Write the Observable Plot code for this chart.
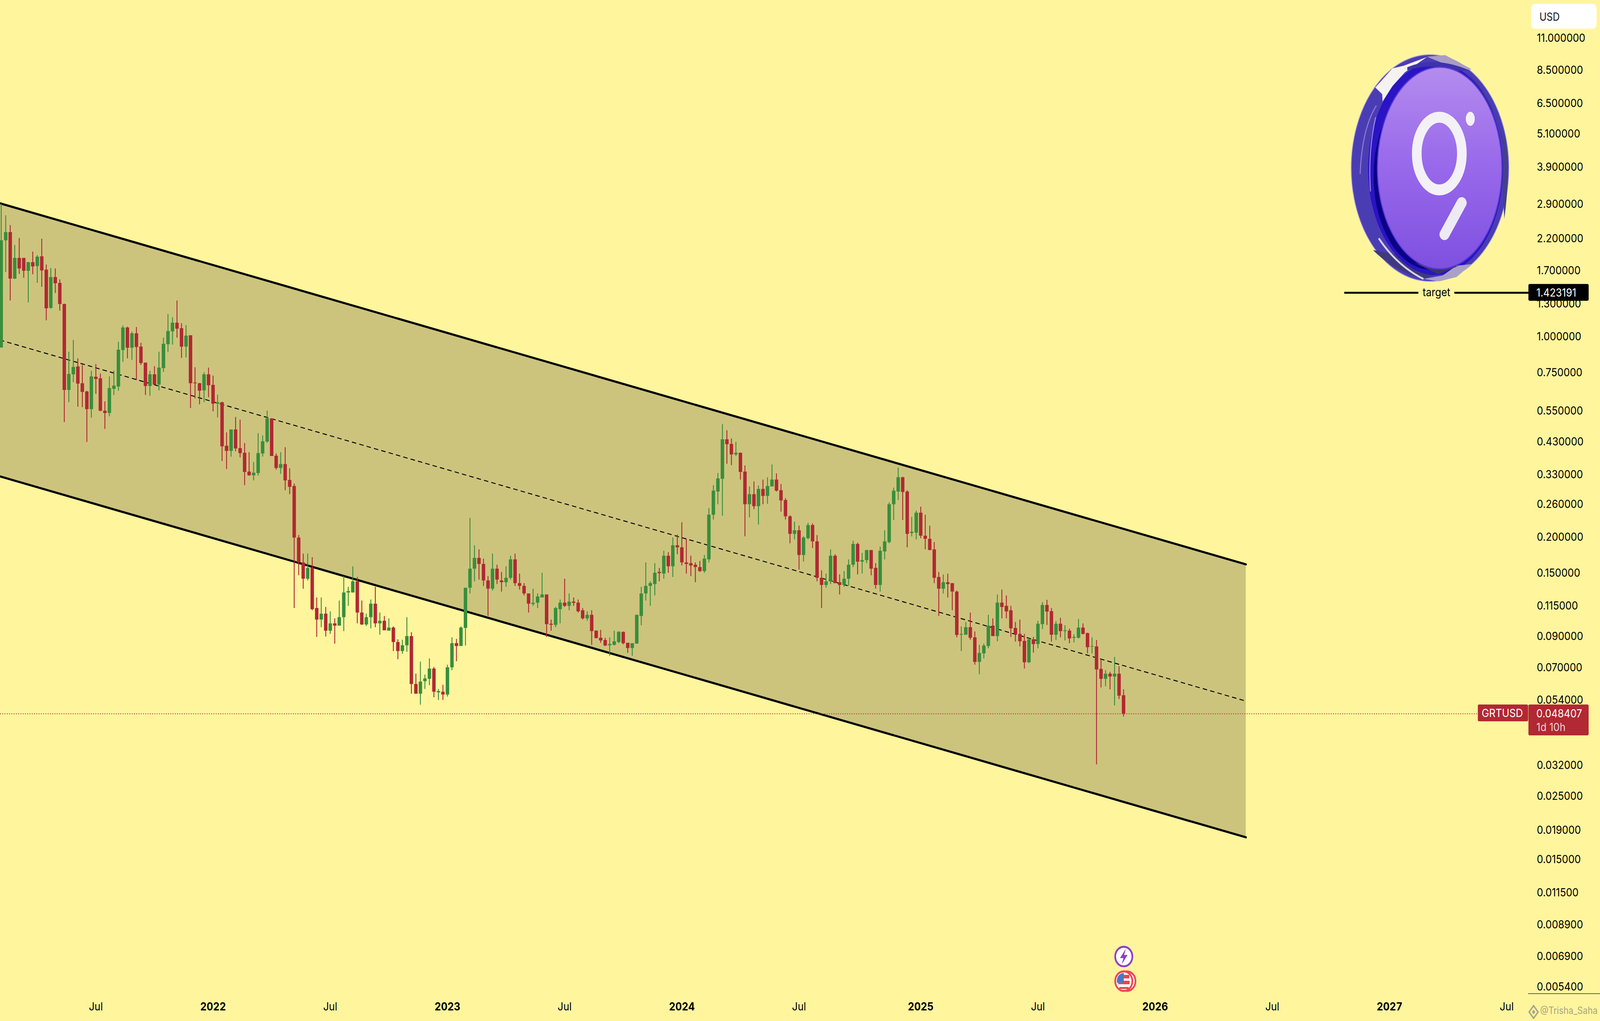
<!DOCTYPE html>
<html>
<head>
<meta charset="utf-8">
<script src="https://cdn.jsdelivr.net/npm/d3@7"></script>
<script src="https://cdn.jsdelivr.net/npm/@observablehq/plot@0.6"></script>
<style>
html,body{margin:0;padding:0;background:#FFF59D;overflow:hidden;}
#wrap{position:relative;width:100vw;height:2613px;overflow:hidden;background:#FFF59D;font-family:Inter,"Liberation Sans",sans-serif;}
#wrap>svg{position:absolute;left:0;top:0;width:100vw;height:2613px;max-width:none;}
</style>
</head>
<body>
<div id="wrap"></div>
<script>
const firstWeek = Date.UTC(2021, 1, 8);
const opens = [.916,2.165,2.313,1.592,1.880,1.880,1.695,1.816,1.760,1.904,
1.711,1.258,1.612,1.538,1.298,.651,.738,.786,.687,.643,
.558,.724,.715,.551,.541,.657,.669,.897,1.075,.914,
1.026,.922,.811,.672,.738,.680,.776,.940,1.042,1.117,
1.069,.922,1.010,.691,.687,.649,.738,.678,.583,.590,
.416,.399,.474,.408,.393,.338,.328,.334,.391,.430,
.518,.384,.348,.359,.316,.301,.199,.163,.143,.156,
.113,.103,.108,.0942,.0999,.0981,.105,.128,.128,.140,
.109,.0990,.105,.117,.0999,.102,.0942,.0966,.0860,.0800,
.0838,.0902,.0614,.0568,.0628,.0640,.0695,.0574,.0577,.0564,
.0702,.0852,.0833,.0963,.133,.155,.169,.161,.141,.132,
.155,.141,.139,.144,.167,.138,.135,.127,.1167,.118,
.123,.126,.0996,.0987,.112,.118,.115,.1190,.118,.111,
.104,.107,.0942,.0890,.0874,.0838,.0841,.0860,.0933,.0855,
.0820,.0849,.106,.127,.135,.137,.1510,.149,.172,.158,
.187,.184,.163,.162,.160,.157,.152,.167,.239,.288,
.319,.438,.422,.388,.393,.338,.260,.282,.256,.294,
.278,.300,.317,.291,.269,.236,.205,.211,.173,.198,
.220,.193,.144,.136,.140,.172,.139,.136,.143,.160,
.189,.164,.166,.180,.156,.136,.178,.192,.260,.288,
.323,.288,.2065,.207,.243,.202,.197,.181,.145,.132,
.139,.138,.129,.0912,.0912,.0969,.0893,.0733,.0785,.0833,
.0981,.0902,.118,.115,.111,.0963,.0918,.0868,.0731,.0879,
.0846,.0993,.1158,.1102,.0912,.0996,.0939,.0942,.0890,.0890,
.0966,.0924,.0829,.0830,.0693,.0640,.0667,.0652,.0667,.0561];
const closes = [2.165,2.313,1.592,1.880,1.727,1.695,1.816,1.755,1.898,1.700,
1.254,1.612,1.533,1.298,.651,.740,.783,.685,.641,.558,
.726,.711,.551,.541,.661,.674,.899,1.075,.914,1.026,
.919,.808,.672,.738,.680,.779,.943,1.045,1.117,1.065,
.922,1.007,.687,.687,.647,.738,.676,.583,.590,.414,
.399,.474,.407,.392,.337,.328,.335,.392,.431,.518,
.383,.348,.359,.315,.299,.199,.163,.143,.156,.112,
.103,.108,.0942,.0999,.0981,.105,.128,.1295,.140,.109,
.0990,.105,.117,.0999,.102,.0945,.0966,.0860,.0800,.0838,
.0902,.0614,.0568,.0626,.0642,.0695,.0577,.0580,.0564,.0702,
.0852,.0833,.0966,.133,.155,.169,.161,.141,.132,.155,
.142,.139,.144,.167,.138,.135,.127,.117,.1178,.124,
.126,.0993,.0988,.113,.118,.115,.119,.1178,.110,.104,
.107,.0939,.0888,.0871,.0836,.0847,.0865,.0933,.0852,.0820,
.0852,.107,.127,.135,.138,.150,.1495,.172,.158,.187,
.184,.163,.161,.159,.157,.152,.168,.239,.290,.320,
.438,.421,.388,.393,.337,.260,.282,.256,.294,.278,
.301,.317,.290,.268,.236,.205,.211,.173,.199,.220,
.193,.144,.136,.140,.172,.138,.136,.143,.160,.189,
.164,.166,.180,.155,.136,.179,.193,.260,.290,.323,
.287,.205,.2085,.243,.202,.197,.180,.144,.132,.139,
.137,.129,.0910,.0918,.0969,.0890,.0733,.0788,.0836,.0981,
.0902,.118,.114,.110,.0960,.0915,.0865,.0731,.0879,.0846,
.0996,.1158,.1098,.0912,.0996,.0939,.0945,.0885,.0896,.0966,
.0918,.0825,.0833,.0690,.0640,.0667,.0652,.0667,.0559,.048407];
const highs = [2.908,2.647,2.447,2.086,2.206,1.880,1.822,1.977,1.922,2.193,
1.782,1.733,1.727,1.582,1.302,.885,.973,.839,.796,.647,
.759,.801,.743,.594,.726,.761,.958,1.092,1.082,1.039,
1.079,.951,.811,.759,.788,.885,.991,1.197,1.167,1.335,
1.113,1.096,1.010,.781,.689,.750,.779,.731,.627,.592,
.463,.474,.524,.513,.425,.395,.365,.460,.452,.551,
.518,.391,.395,.411,.347,.307,.203,.175,.175,.170,
.123,.123,.114,.110,.104,.120,.146,.134,.158,.145,
.120,.108,.121,.134,.109,.106,.104,.0975,.0879,.0876,
.105,.0930,.0667,.0735,.0662,.0754,.0704,.0590,.0610,.0717,
.0893,.0882,.0975,.133,.233,.187,.181,.168,.146,.175,
.160,.151,.158,.172,.175,.149,.138,.127,.132,.127,
.150,.126,.103,.114,.121,.143,.127,.123,.121,.113,
.110,.111,.0945,.0948,.0890,.0893,.0942,.0939,.0936,.0855,
.0852,.107,.134,.163,.140,.162,.156,.179,.177,.199,
.204,.225,.197,.172,.163,.165,.173,.252,.303,.334,
.495,.471,.441,.429,.394,.355,.300,.312,.302,.317,
.323,.358,.333,.306,.273,.238,.226,.219,.201,.224,
.223,.203,.153,.149,.181,.174,.148,.152,.167,.194,
.191,.176,.180,.180,.162,.185,.211,.264,.297,.349,
.324,.291,.235,.247,.255,.239,.219,.192,.151,.148,
.149,.138,.130,.0975,.101,.109,.0936,.0841,.0849,.107,
.104,.126,.131,.125,.115,.101,.103,.0918,.0888,.0896,
.102,.1184,.1207,.1130,.1018,.1045,.0984,.0957,.0915,.1035,
.0999,.0927,.0893,.0874,.0749,.0686,.0677,.0763,.0708,.0588];
const lows = [.914,1.679,1.335,1.587,1.653,1.602,1.315,1.648,1.538,1.491,
1.138,1.250,1.418,1.231,.503,.590,.693,.569,.567,.429,
.521,.631,.549,.476,.527,.625,.647,.816,.839,.829,
.704,.796,.625,.621,.678,.649,.752,.883,.937,.991,
.842,.845,.563,.608,.580,.590,.614,.548,.522,.368,
.345,.381,.398,.379,.303,.327,.315,.327,.381,.426,
.383,.343,.332,.291,.282,.113,.147,.132,.141,.111,
.0896,.0969,.0899,.0918,.0849,.0981,.0939,.115,.128,.0999,
.0987,.0978,.0960,.0969,.0912,.0945,.0942,.0800,.0749,.0783,
.0795,.0568,.0568,.0520,.0590,.0608,.0552,.0540,.0540,.0555,
.0686,.0737,.0833,.0836,.127,.140,.142,.135,.106,.130,
.137,.129,.134,.142,.135,.131,.125,.109,.115,.113,
.123,.0896,.0942,.0969,.0999,.114,.111,.115,.109,.103,
.102,.0841,.0885,.0855,.0833,.0770,.0836,.0852,.0844,.0788,
.0770,.0849,.0984,.120,.115,.125,.140,.143,.150,.145,
.174,.159,.149,.146,.139,.151,.150,.163,.230,.260,
.237,.360,.356,.383,.317,.201,.234,.250,.221,.260,
.261,.300,.288,.245,.230,.190,.196,.154,.164,.196,
.183,.140,.113,.133,.137,.138,.126,.134,.135,.157,
.148,.149,.162,.147,.132,.129,.167,.190,.229,.269,
.229,.184,.201,.196,.198,.181,.180,.138,.106,.127,
.123,.111,.0893,.0800,.0912,.0876,.0717,.0664,.0754,.0818,
.0902,.0865,.104,.104,.0896,.0863,.0830,.0695,.0726,.0790,
.0818,.0954,.0987,.0863,.0874,.0893,.0871,.0852,.0857,.0885,
.0915,.0785,.0785,.0322,.0597,.0603,.0588,.0517,.0544,.0473];

const priceTicks = [11,8.5,6.5,5.1,3.9,2.9,2.2,1.7,1.3,1,.75,.55,.43,.33,.26,.2,.15,.115,.09,.07,.054,.032,.025,.019,.015,.0115,.0089,.0069,.0054];
const julyTicks = ["2021-07-05","2022-07-04","2023-07-03","2024-07-01","2025-07-07","2026-07-06","2027-07-05"].map(d=>new Date(d));
const yearTicks = ["2022-01-03","2023-01-02","2024-01-01","2025-01-06","2026-01-05","2027-01-04"].map(d=>new Date(d));

const channelDates = ["2021-02-06T09:32Z","2026-05-26T00:00Z"].map(d=>new Date(d));
const channelUpper = [2.917,.1607];
const channelMiddle = [.973,.0536];
const channelLower = [.3255,.01795];

const lastPrice = 0.048407;
const targetPrice = 1.423191;
const targetSegments = [["2026-10-26","2027-02-18"],["2027-04-15","2027-08-08"]];
const targetLabelDate = "2027-03-18";

const RED = "#B22833", GREEN = "#388E3C";
const WEEK = 7*864e5;
const candles = opens.map((o,i)=>({date:new Date(firstWeek+i*WEEK),open:o,close:closes[i],high:highs[i],low:lows[i]}));
const ups = candles.filter(c=>c.close>=c.open), downs = candles.filter(c=>c.close<c.open);
const band = channelDates.map((d,i)=>({date:d,upper:channelUpper[i],middle:channelMiddle[i],lower:channelLower[i]}));

const font = 'Inter, "Liberation Sans", sans-serif';
const TXT = 29;

const candleMarks = (rows,color)=>[
  Plot.ruleX(rows,{x:"date",y1:"low",y2:"high",stroke:color,strokeWidth:2.6}),
  Plot.ruleX(rows,{x:"date",y1:"open",y2:"close",stroke:color,strokeWidth:10})
];

const plot = Plot.plot({
  width:4650, height:2613,
  marginLeft:0, marginRight:184, marginTop:0, marginBottom:70,
  style:{background:"transparent",fontFamily:font},
  x:{type:"utc",domain:[new Date("2021-02-06T09:32Z"),new Date("2027-08-20T20:00Z")]},
  y:{type:"log",domain:[0.005108,14.91],axis:null},
  marks:[
    Plot.areaY(band,{x:"date",y1:"upper",y2:"lower",fill:"#000",fillOpacity:.2}),
    Plot.line(band,{x:"date",y:"upper",stroke:"#000",strokeWidth:5.5}),
    Plot.line(band,{x:"date",y:"lower",stroke:"#000",strokeWidth:5.5}),
    Plot.line(band,{x:"date",y:"middle",stroke:"#000",strokeWidth:2.4,strokeDasharray:"11 11"}),
    Plot.ruleY([lastPrice],{stroke:RED,strokeWidth:2,strokeDasharray:"2.6 4"}),
    ...candleMarks(ups,GREEN),
    ...candleMarks(downs,RED),
    Plot.ruleY(targetSegments,{x1:d=>new Date(d[0]),x2:d=>new Date(d[1]),y:()=>targetPrice,stroke:"#000",strokeWidth:5}),
    Plot.text([targetLabelDate],{x:d=>new Date(d),y:()=>targetPrice,text:()=>"target",fontSize:TXT,fill:"#000",fontFamily:font}),
    // Price labels: the axis mark thins the labels of a log scale, so they are set through the same y scale as text.
    Plot.text(priceTicks,{y:d=>d,text:d3.format(".6f"),frameAnchor:"right",textAnchor:"start",fontSize:TXT,fill:"#000",fontFamily:font}),
    Plot.axisX(julyTicks,{tickSize:0,tickPadding:22,tickFormat:()=>"Jul",fontSize:TXT,fill:"#000",label:null,fontFamily:font}),
    Plot.axisX(yearTicks,{tickSize:0,tickPadding:22,tickFormat:d=>String(d.getUTCFullYear()),fontSize:TXT,fontWeight:700,fill:"#000",label:null,fontFamily:font})
  ]
});
const wrap = document.getElementById("wrap");
// The browser window may be narrower than the drawing: the whole drawing keeps its layout and fills the window.
plot.setAttribute("preserveAspectRatio","none");
plot.setAttribute("viewBox","0 0 4650 2613");
plot.removeAttribute("width");
wrap.appendChild(plot);

const yy = plot.scale("y").apply(lastPrice), ty = plot.scale("y").apply(targetPrice);
const overlay = `
<svg xmlns="http://www.w3.org/2000/svg" preserveAspectRatio="none" viewBox="0 0 4650 2613" style="font-family:${font.replace(/"/g,"'")}">
<defs>
<linearGradient id="face" x1="0" y1="0" x2="0" y2="1"><stop offset="0" stop-color="#B48CEE"/><stop offset=".45" stop-color="#9A6BEB"/><stop offset="1" stop-color="#7F50E0"/></linearGradient>
</defs>
<ellipse cx="4156" cy="430" rx="229" ry="290" fill="#4A3DB4" stroke="#9C94DC" stroke-width="2"/>
<path d="M3990 640 Q4060 700 4137 712 L4190 700 L4120 660 Z" fill="#3F3A7E"/>
<path d="M4270 190 Q4340 250 4372 370 L4384 430 L4350 300 Z" fill="#3C3A90"/>
<path d="M4372 340 Q4392 430 4372 560 L4364 430 Z" fill="#44408C"/>
<ellipse cx="4172" cy="432" rx="196" ry="272" fill="#2A14C4"/>
<ellipse cx="4158" cy="450" rx="166" ry="240" fill="#0B0088"/>
<path d="M3953 445 Q3958 330 4000 270" stroke="#B7A6EC" stroke-width="3" fill="none" opacity=".6"/>
<path d="M3983 490 Q3975 390 3998 300" stroke="#B79DF2" stroke-width="3" fill="none" opacity=".8"/>
<path d="M4007 610 Q4060 680 4137 714" stroke="#D9D0EE" stroke-width="5" fill="none"/>
<polygon points="3997,224 4047,175 4080,168 4147,146 4083,185 4047,220 4018,260 4017,241" fill="#F5F2F0"/>
<polygon points="4147,145 4200,141 4277,177 4240,181 4183,158 4160,150" fill="#A99CC8"/>
<polygon points="4137,714 4183,720 4233,709 4277,676 4233,680 4193,705" fill="#AAA0C6"/>
<path d="M4090 172 Q4170 142 4270 180 L4230 182 Q4160 160 4090 180 Z" fill="#3E33A8"/>
<path d="M4110 672 L4180 702 L4240 680 L4180 690 Z" fill="#3A3570"/>
<ellipse cx="4184" cy="430" rx="181" ry="258" fill="url(#face)" stroke="#5A3BDB" stroke-width="3"/>
<ellipse cx="4183" cy="393" rx="65.5" ry="93" fill="none" stroke="#F3F1F6" stroke-width="28"/>
<ellipse cx="4273" cy="304" rx="13" ry="18" fill="#F3F1F6"/>
<line x1="4248" y1="519" x2="4198" y2="600" stroke="#EEEAF3" stroke-width="29" stroke-linecap="round"/>

<rect x="4450" y="10" width="190" height="63.5" rx="10" fill="#fff"/>
<text x="4474" y="42" font-size="28" dominant-baseline="central" fill="#131722">USD</text>

<rect x="4442" y="${ty-22}" width="175" height="43" rx="4" fill="#000"/>
<text x="4465" y="${ty}" font-size="${TXT}" dominant-baseline="central" fill="#fff">1.423191</text>

<rect x="4295" y="1803" width="146" height="43" rx="4" fill="${RED}"/>
<text x="4306" y="1825" font-size="29" dominant-baseline="central" fill="#fff">GRTUSD</text>
<rect x="4442" y="1803" width="175" height="79" rx="4" fill="${RED}"/>
<text x="4465" y="${yy}" font-size="${TXT}" dominant-baseline="central" fill="#fff">0.048407</text>
<text x="4465" y="1861" font-size="${TXT}" dominant-baseline="central" fill="#fff" fill-opacity=".78">1d 10h</text>

<line x1="4441" y1="2543" x2="4650" y2="2543" stroke="#333" stroke-width="1.5"/>

<circle cx="3266" cy="2448" r="25" fill="#fff" stroke="#8E3FC4" stroke-width="5"/>
<polygon points="3272,2428 3255,2452 3265,2452 3260,2468 3277,2444 3267,2444" fill="#8E3FC4"/>
<circle cx="3275" cy="2511" r="25" fill="#fff" stroke="#EE4652" stroke-width="5"/>
<circle cx="3266" cy="2511" r="25" fill="#fff" stroke="#EE4652" stroke-width="5"/>
<rect x="3252" y="2495" width="30" height="9" fill="#E5484D"/>
<rect x="3250" y="2510" width="33" height="9" fill="#E5484D"/>
<rect x="3253" y="2526" width="27" height="5" fill="#E5484D"/>
<path d="M3266 2490 A21 21 0 0 0 3246 2515 L3266 2515 Z" fill="#4A78C8"/>

<polygon points="4457,2574 4470,2590 4457,2606 4444,2590" fill="none" stroke="#A8A68A" stroke-width="4"/>
<polygon points="4457,2584 4462,2590 4457,2596 4452,2590" fill="#A8A68A"/>
<text x="4476" y="2586" font-size="25" dominant-baseline="central" fill="#8F8E78" fill-opacity=".8">@Trisha_Saha</text>
</svg>`;
wrap.insertAdjacentHTML("beforeend", overlay);
</script>
</body>
</html>
